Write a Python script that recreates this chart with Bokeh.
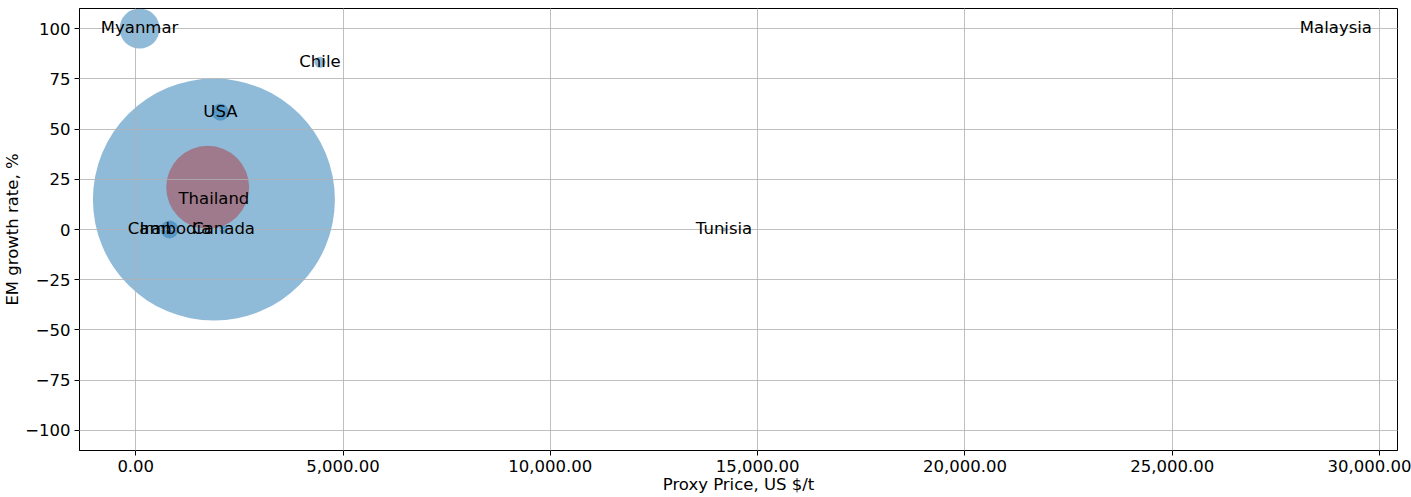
import numpy as np
from bokeh.plotting import figure
from bokeh.models import ColumnDataSource, NumeralTickFormatter, CustomJSTickFormatter, FixedTicker, Range1d
from bokeh.core.properties import value
from bokeh.embed import file_html
from bokeh.resources import INLINE

# ---- data ----
countries = ["Thailand", "Myanmar", "Chile", "USA", "Cambodia", "Iran", "Canada", "Tunisia", "Malaysia"]
proxy_price = [1885, 92, 4444, 2041, 815, 477, 2118, 14190, 28948]
growth_rate = [14.9, 100, 83.2, 58.4, 0, 0, 0, 0, 100]
volume = [3660, 100, 7.5, 18, 20, 0.1, 4, 1, 1]

avg_label = ["Weighted average"]
avg_price = [1735]
avg_growth = [21.0]
avg_volume = [430]

x_ticks = [0, 5000, 10000, 15000, 20000, 25000, 30000]
y_ticks = [-100, -75, -50, -25, 0, 25, 50, 75, 100]

FONT = value("DejaVu Sans")
FS = "16.5px"

src = ColumnDataSource(dict(x=proxy_price, y=growth_rate, name=countries,
                            d=[4 * np.sqrt(v) for v in volume]))
avg_src = ColumnDataSource(dict(x=avg_price, y=avg_growth, name=avg_label,
                                d=[4 * np.sqrt(v) for v in avg_volume]))

p = figure(width=1411, height=497, output_backend="svg", toolbar_location=None,
           x_range=Range1d(-1357, 30434), y_range=Range1d(-110, 110),
           min_border_left=78, min_border_right=14, min_border_top=8, min_border_bottom=47)
p.background_fill_color = "white"
p.border_fill_color = "white"
p.outline_line_color = "black"
p.outline_line_width = 1

p.scatter("x", "y", size="d", source=src, fill_color="#1f77b4", fill_alpha=0.5, line_color=None)
p.scatter("x", "y", size="d", source=avg_src, fill_color="#ad393f", fill_alpha=0.5, line_color=None)
p.text("x", "y", text="name", source=src, text_align="center", text_baseline="middle",
       text_font=FONT, text_font_size=FS, text_color="black", level="annotation",
       y_offset=-1)

for g in (p.xgrid, p.ygrid):
    g.grid_line_color = "#b0b0b0"
    g.grid_line_width = 0.8
    g.level = "guide"

p.xaxis.ticker = FixedTicker(ticks=x_ticks)
p.yaxis.ticker = FixedTicker(ticks=y_ticks)
p.xaxis.formatter = NumeralTickFormatter(format="0,0.00")
p.yaxis.formatter = CustomJSTickFormatter(code="return tick < 0 ? '\\u2212' + Math.abs(tick) : String(tick);")

p.xaxis.axis_label = "Proxy Price, US $/t"
p.yaxis.axis_label = "EM growth rate, %"
for ax in (p.xaxis[0], p.yaxis[0]):
    ax.axis_label_text_font = "DejaVu Sans"
    ax.axis_label_text_font_size = FS
    ax.axis_label_text_font_style = "normal"
    ax.axis_label_text_color = "black"
    ax.major_label_text_font = "DejaVu Sans"
    ax.major_label_text_font_size = FS
    ax.major_label_text_color = "black"
    ax.axis_line_color = "black"
    ax.major_tick_line_color = "black"
    ax.major_tick_out = 5
    ax.major_tick_in = 0
    ax.minor_tick_line_color = None
    ax.major_label_standoff = 4
    ax.axis_label_standoff = 0

open("out.html", "w").write(file_html(p, INLINE))
